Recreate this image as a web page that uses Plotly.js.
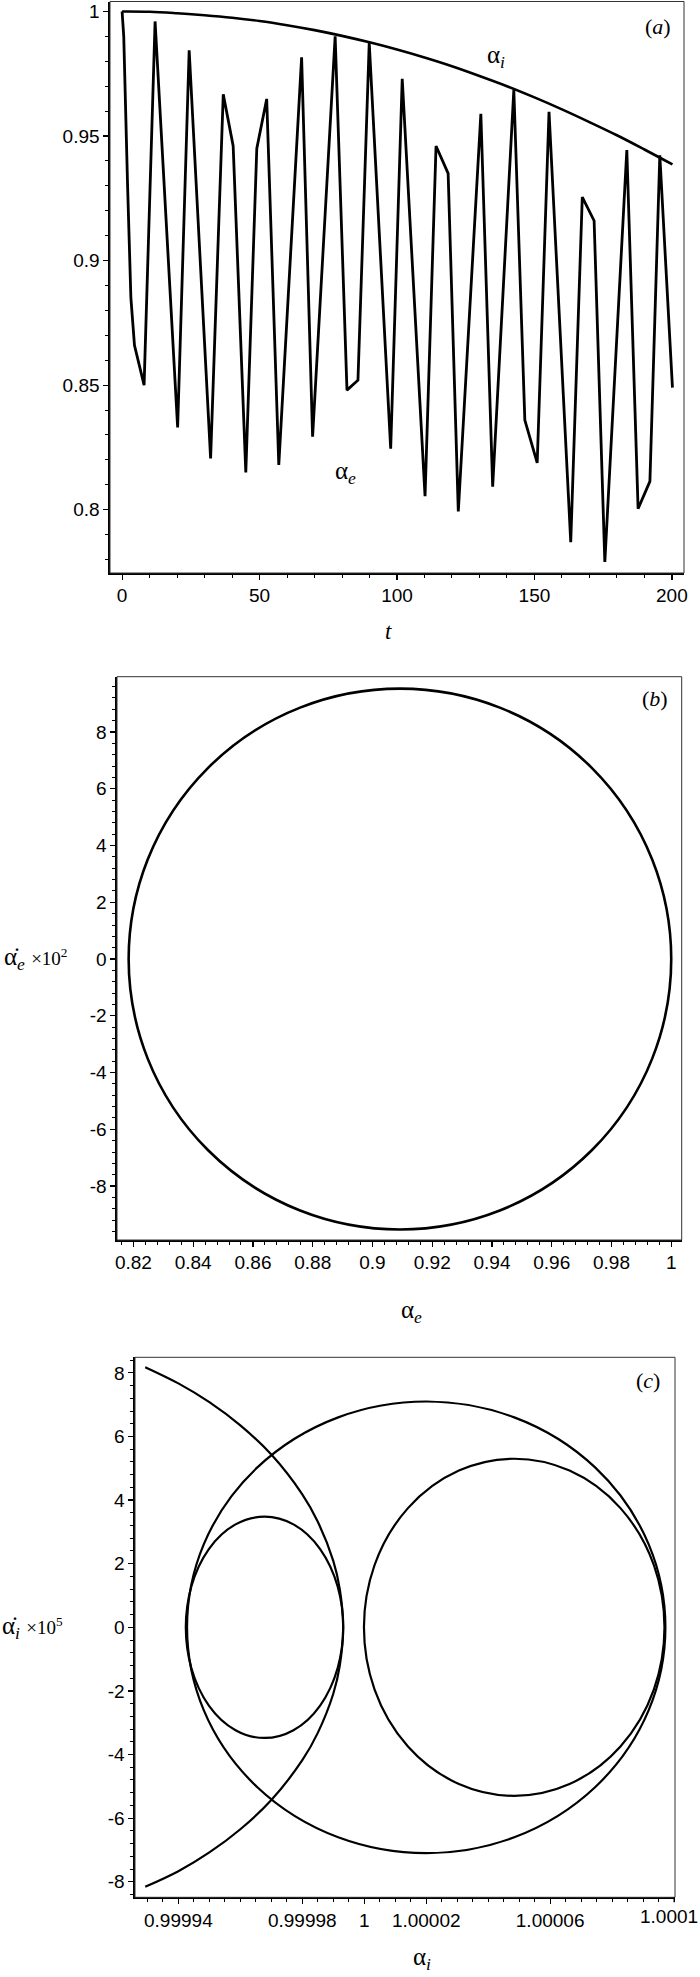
<!DOCTYPE html>
<html>
<head>
<meta charset="utf-8">
<script src="https://cdn.plot.ly/plotly-3.0.1.min.js"></script>
<style>html,body{margin:0;padding:0;background:#fff;}</style>
</head>
<body>
<div id="chart" style="width:700px;height:1977px;"></div>
<script>
// ---------- Panel (a): time series ----------
const tE = [0, 0.6, 2, 3.2, 4.5, 8, 12, 20.2, 24.4, 32.2, 36.8, 40.4, 45, 49, 52.6, 57, 65.3, 69.3, 77.5, 81.8, 85.8, 89.9, 97.7, 101.9, 110.2, 114.2, 118.6, 122.3, 130.5, 134.8, 142.5, 146.5, 151, 155.3, 163.2, 167.4, 171.7, 175.6, 183.6, 187.7, 192, 195.6, 200.2];
const alphaE = [1.0, 0.99, 0.93, 0.885, 0.866, 0.85, 0.996, 0.833, 0.9844, 0.8206, 0.9668, 0.946, 0.815, 0.945, 0.9649, 0.818, 0.9816, 0.8293, 0.990, 0.848, 0.852, 0.9874, 0.8245, 0.973, 0.8054, 0.946, 0.935, 0.7993, 0.9589, 0.8092, 0.9685, 0.836, 0.8188, 0.9597, 0.787, 0.9255, 0.916, 0.779, 0.9444, 0.8004, 0.8114, 0.9423, 0.849];
const tI = [0, 10, 20, 30, 40, 50, 60, 70, 80, 90, 100, 110, 120, 130, 140, 150, 160, 170, 180, 190, 200.2];
const alphaI = [1.0, 0.9999, 0.9993, 0.9985, 0.9975, 0.9962, 0.9945, 0.9925, 0.9902, 0.9876, 0.9847, 0.9815, 0.978, 0.9741, 0.970, 0.9655, 0.9607, 0.9556, 0.9503, 0.9446, 0.9386];

// ---------- Panel (b): phase portrait (closed orbit) ----------
const orbitB_center = [0.9092, 0];      // [alpha_e, alpha_e_dot*1e2]
const orbitB_radius = [0.0908, 9.53];

// ---------- Panel (c): phase portrait of alpha_i ----------
const orbitC_cx = [1.00002, 0.9999678, 1.0000484];
const orbitC_cy = [0, 0, 0];
const orbitC_rx = [7.72e-5, 2.54e-5, 4.85e-5];
const orbitC_ry = [7.1, 3.48, 5.3];
const arcC_x = [0.9999293, 0.99994, 0.99995, 0.99996, 0.99997, 0.99998, 0.999985, 0.99999, 0.9999921, 0.9999932, 0.9999921, 0.99999, 0.999985, 0.99998, 0.99997, 0.99996, 0.99995, 0.99994, 0.9999293];
const arcC_y = [8.18, 7.67, 7.08, 6.35, 5.43, 4.18, 3.32, 2.09, 1.2, 0, -1.2, -2.09, -3.32, -4.18, -5.43, -6.35, -7.08, -7.67, -8.16];

// ---------- tick labels ----------
const yTicksB = [-8, -6, -4, -2, 0, 2, 4, 6, 8];
const yTextB = ['-8', '-6', '-4', '-2', '0', '2', '4', '6', '8'];
const xTicksC = [0.99994, 0.99998, 1, 1.00002, 1.00006];
const xTextC = ['0.99994', '0.99998', '1', '1.00002', '1.00006'];
const xEdgeTickC = [1.0001];          // last tick of panel (c), labelled at the frame edge
const xEdgeTextC = ['1.0001'];
const yTicksC = [-8, -6, -4, -2, 0, 2, 4, 6, 8];
const yTextC = ['-8', '-6', '-4', '-2', '0', '2', '4', '6', '8'];

const W = 700, H = 1977;
const px = p => p / W;
const py = p => 1 - p / H;

const traces = [
  {x: tE, y: alphaE, xaxis: 'x', yaxis: 'y', mode: 'lines', line: {color: '#000', width: 2.8}, hoverinfo: 'skip'},
  {x: tI, y: alphaI, xaxis: 'x', yaxis: 'y', mode: 'lines', line: {color: '#000', width: 2.6, shape: 'spline'}, hoverinfo: 'skip'},
  {x: arcC_x, y: arcC_y, xaxis: 'x3', yaxis: 'y3', mode: 'lines', line: {color: '#000', width: 2.2, shape: 'spline', smoothing: 1}, hoverinfo: 'skip'}
];

const tickFont = {family: 'Liberation Sans, Arial, sans-serif', size: 19, color: '#000'};
const baseAxis = {
  showline: true, linecolor: '#000', linewidth: 1.6,
  ticks: 'outside', ticklen: 5, tickwidth: 1.2, tickcolor: '#000',
  showgrid: false, zeroline: false,
  tickfont: tickFont
};
const minor = (d, t0) => ({ticks: 'outside', ticklen: 3, tickwidth: 1, tickcolor: '#000', dtick: d, tick0: t0, showgrid: false});

const layout = {
  width: W, height: H,
  margin: {l: 0, r: 0, t: 0, b: 0},
  paper_bgcolor: '#fff', plot_bgcolor: '#fff',
  showlegend: false,
  font: {family: 'Liberation Sans, Arial, sans-serif', size: 19, color: '#000'},
  xaxis: Object.assign({}, baseAxis, {domain: [px(110), px(684)], anchor: 'y', range: [-4.4, 204.4], dtick: 50, tick0: 0, minor: minor(10, 0)}),
  yaxis: Object.assign({}, baseAxis, {domain: [py(573), py(1.5)], anchor: 'x', range: [0.7746, 1.004], dtick: 0.05, tick0: 0, minor: minor(0.01, 0)}),
  xaxis2: Object.assign({}, baseAxis, {domain: [px(117), px(681.7)], anchor: 'y2', range: [0.8145, 1.0035], dtick: 0.02, tick0: 0, minor: minor(0.004, 0)}),
  yaxis2: Object.assign({}, baseAxis, {domain: [py(1240), py(676.7)], anchor: 'x2', range: [-9.9, 9.95], tickmode: 'array', tickvals: yTicksB, ticktext: yTextB, minor: minor(0.4, 0)}),
  xaxis3: Object.assign({}, baseAxis, {domain: [px(135), px(675)], anchor: 'y3', range: [0.999926, 1.0001003], tickmode: 'array', tickvals: xTicksC, ticktext: xTextC, minor: minor(0.000005, 1)}),
  yaxis3: Object.assign({}, baseAxis, {domain: [py(1897.3), py(1357.3)], anchor: 'x3', range: [-8.49, 8.49], tickmode: 'array', tickvals: yTicksC, ticktext: yTextC, minor: minor(0.4, 0)}),
  shapes: [],
  annotations: []
};

// frames (thin box around each panel)
[['x', 'y'], ['x2', 'y2'], ['x3', 'y3']].forEach(([xa, ya]) => {
  layout.shapes.push({type: 'rect', xref: xa + ' domain', yref: ya + ' domain', x0: 0, x1: 1, y0: 0, y1: 1, line: {color: '#333', width: 1}, layer: 'above'});
});

// panel (b) orbit
layout.shapes.push({type: 'circle', xref: 'x2', yref: 'y2',
  x0: orbitB_center[0] - orbitB_radius[0], x1: orbitB_center[0] + orbitB_radius[0],
  y0: orbitB_center[1] - orbitB_radius[1], y1: orbitB_center[1] + orbitB_radius[1],
  line: {color: '#000', width: 2.6}, fillcolor: 'rgba(0,0,0,0)'});

// panel (c) orbits
for (let i = 0; i < orbitC_cx.length; i++) {
  layout.shapes.push({type: 'circle', xref: 'x3', yref: 'y3',
    x0: orbitC_cx[i] - orbitC_rx[i], x1: orbitC_cx[i] + orbitC_rx[i],
    y0: orbitC_cy[i] - orbitC_ry[i], y1: orbitC_cy[i] + orbitC_ry[i],
    line: {color: '#000', width: 2.2}, fillcolor: 'rgba(0,0,0,0)'});
}

// edge tick mark + label for 1.0001
layout.shapes.push({type: 'line', xref: 'x3', yref: 'y3 domain', x0: xEdgeTickC[0], x1: xEdgeTickC[0], y0: -5, y1: 0, ysizemode: 'pixel', yanchor: 0, line: {color: '#000', width: 1.2}});
layout.annotations.push({
  xref: 'x3', yref: 'y3 domain', x: xEdgeTickC[0], y: 0, xshift: -5, yshift: -8,
  xanchor: 'center', yanchor: 'top', text: xEdgeTextC[0], showarrow: false, font: tickFont, borderpad: 0
});

const serif = 'Liberation Serif, Times New Roman, serif';
const ann = (x, y, text, size, xanchor) => ({
  xref: 'paper', yref: 'paper', x: px(x), y: py(y), text: text, showarrow: false,
  xanchor: xanchor || 'center', yanchor: 'middle', font: {family: serif, size: size || 20, color: '#000'}
});

layout.annotations.push(
  ann(496, 57, 'α<sub><i>i</i></sub>', 25),
  ann(345, 472, 'α<sub><i>e</i></sub>', 25),
  ann(658, 27, '(<i>a</i>)', 22),
  ann(388, 632, '<i>t</i>', 23),
  ann(655, 698, '(<i>b</i>)', 22),
  ann(411, 1311, 'α<sub><i>e</i></sub>', 25),
  ann(2, 958, 'α̇<sub><i>e</i></sub> <span style="font-size:19px">×10<sup>2</sup></span>', 25, 'left'),
  ann(648, 1380, '(<i>c</i>)', 22),
  ann(422, 1958, 'α<sub><i>i</i></sub>', 25),
  ann(0, 1627, 'α̇<sub><i>i</i></sub> <span style="font-size:19px">×10<sup>5</sup></span>', 25, 'left')
);

Plotly.newPlot('chart', traces, layout, {staticPlot: true, displayModeBar: false});
</script>
</body>
</html>
